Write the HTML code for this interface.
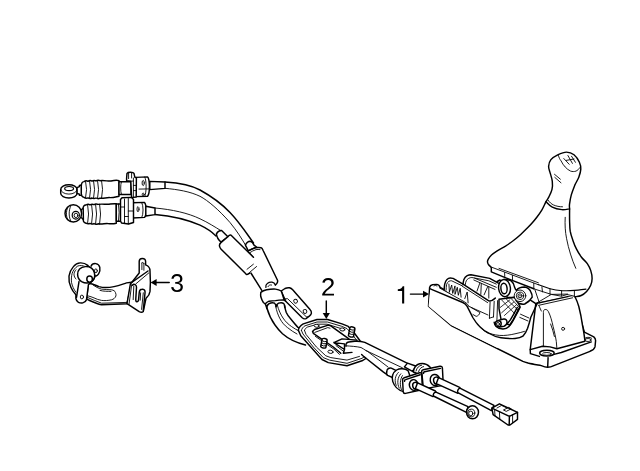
<!DOCTYPE html>
<html>
<head>
<meta charset="utf-8">
<title>Shifter &amp; cables diagram</title>
<style>
html,body{margin:0;padding:0;background:#fff;}
body{width:640px;height:471px;overflow:hidden;font-family:"Liberation Sans",sans-serif;}
svg{display:block;position:absolute;left:0;top:0;}
.m{fill:none;stroke:#000;stroke-width:1.45;stroke-linecap:round;stroke-linejoin:round;}
.w{fill:#fff;stroke:#000;stroke-width:1.45;stroke-linecap:round;stroke-linejoin:round;}
.t{fill:none;stroke:#000;stroke-width:0.9;stroke-linecap:round;stroke-linejoin:round;}
.tw{fill:#fff;stroke:#000;stroke-width:0.9;stroke-linecap:round;stroke-linejoin:round;}
.k{fill:#000;stroke:none;}
text{font-family:"Liberation Sans",sans-serif;font-size:22px;fill:#000;}
</style>
</head>
<body>
<svg width="640" height="471" viewBox="0 0 640 471">
<rect x="0" y="0" width="640" height="471" fill="#fff"/>

<!-- ===== LABELS ===== -->
<g id="labels">
<path class="k" d="M404.2 286.2V303.6H402.1V290.9H397.8V289.3C400.4 289.2 402 288 402.7 286.2Z"/>
<path class="m" d="M410.4 294.1H424"/>
<path class="k" d="M429 294.1L423 290.7V297.5Z"/>
<path class="k" transform="translate(320.897 295.6) scale(0.012647 -0.012238)" d="M103 0V127Q154 244 227.5 333.5Q301 423 382.0 495.5Q463 568 542.5 630.0Q622 692 686.0 754.0Q750 816 789.5 884.0Q829 952 829 1038Q829 1154 761.0 1218.0Q693 1282 572 1282Q457 1282 382.5 1219.5Q308 1157 295 1044L111 1061Q131 1230 254.5 1330.0Q378 1430 572 1430Q785 1430 899.5 1329.5Q1014 1229 1014 1044Q1014 962 976.5 881.0Q939 800 865.0 719.0Q791 638 582 468Q467 374 399.0 298.5Q331 223 301 153H1036V0Z"/>
<path class="m" d="M326.3 301V314"/>
<path class="k" d="M326.3 319L322.7 313H329.9Z"/>
<path class="k" transform="translate(170.152 291.753) scale(0.012152 -0.012345)" d="M1049 389Q1049 194 925.0 87.0Q801 -20 571 -20Q357 -20 229.5 76.5Q102 173 78 362L264 379Q300 129 571 129Q707 129 784.5 196.0Q862 263 862 395Q862 510 773.5 574.5Q685 639 518 639H416V795H514Q662 795 743.5 859.5Q825 924 825 1038Q825 1151 758.5 1216.5Q692 1282 561 1282Q442 1282 368.5 1221.0Q295 1160 283 1049L102 1063Q122 1236 245.5 1333.0Q369 1430 563 1430Q775 1430 892.5 1331.5Q1010 1233 1010 1057Q1010 922 934.5 837.5Q859 753 715 723V719Q873 702 961.0 613.0Q1049 524 1049 389Z"/>
<path class="m" d="M169.2 282.5H156"/>
<path class="k" d="M150.6 282.5L156.6 279.1V285.9Z"/>
</g>

<!-- ===== CABLES ===== -->
<g id="cables">
<!-- upper cable run -->
<path class="m" d="M165 182C180 183 192 185.5 200 190C210 195.5 221 203 230 212.5C240 223 247 234 253.5 243"/>
<path class="t" d="M165 188.3C178 189.5 190 191.5 200 196.3C208 200.5 219 210 230 222.5C237 231 242 239 246.3 246.5"/>
<!-- lower cable run -->
<path class="t" d="M155 208C172 209.5 188 213 200 218.8C208 222.5 215 227 221.5 231"/>
<path class="m" d="M155 214.5C172 216 186 219 200 225.2C207 228.5 212 232 216 236"/>
<!-- upper end A -->
<path class="w" d="M60.7 189.4A8.2 4.7 0 0 1 77.1 189.4L77.1 193.2A8.2 4.7 0 0 1 60.7 193.2Z"/>
<path class="t" d="M60.7 189.4A8.2 4.7 0 0 0 77.1 189.4"/>
<ellipse class="w" cx="69.1" cy="188.6" rx="4.4" ry="2.1" style="stroke-width:1.2"/>
<path class="w" d="M77.1 187.6L79.4 186.6V185.4L81.6 185V195.4L79.4 195.2V194.2L77.1 193.4Z"/>
<path class="w" d="M81.3 186.2C81.3 183.5 82.3 181.8 84 181.6Q86 180.2 88 181.3Q90 180 92 181.1Q94 179.8 96 180.9Q98 179.6 100 180.7C105 180.2 108 181.4 111 181C114 180.3 117 180 119 180.6V196.2C116 196.8 113 197.8 110 197.6C106 197.4 104 198.6 100 198.2Q98 199.2 96 198Q94 199.2 92 198Q90 199 88 197.8Q86 198.7 84 197.4C82.3 197 81.3 195.5 81.3 193.8Z"/>
<path class="t" d="M85.6 181.5Q87.6 189.5 85.6 197.6M89.6 181.2Q91.6 189.5 89.6 197.8M93.6 181Q95.6 189.5 93.6 198M97.6 180.8Q99.6 189.5 97.6 198.1M101.6 180.7Q103.6 189.5 101.6 198.1"/>
<path class="w" d="M119 181.8H131V194.4H119Z"/>
<path class="t" d="M121.4 181.8C120.4 185 120.4 191 121.4 194.4"/>
<path class="w" d="M135.8 177.4L147.6 176.9C149.8 179 150.2 193 147.6 196.2L135.8 196.6Z"/>
<path class="t" d="M144.8 177C146.6 181 146.6 192 144.8 196.4M139 189.1L149.2 188.9"/>
<ellipse class="tw" cx="143.2" cy="183" rx="1.1" ry="2.6"/>
<ellipse class="tw" cx="143.2" cy="194.4" rx="1" ry="1.3"/>
<path class="w" d="M126.6 178.4L127 173.4C128 171.9 133.2 171.9 134 173.4L134.8 177.2L136.4 177.8L136.2 197L131.6 197.6L130.8 181.2L126.6 180.6Z"/>
<path class="t" d="M133.4 178V197.2M130.8 181.2L133.4 181M133.4 185.4H136.2M133.4 190.6H136.2M128.6 173V178.6M131.6 172.6V178"/>
<path class="w" d="M149.8 181.4L165 182V188.4L149.8 189.6Z"/>
<!-- lower end B -->
<ellipse class="w" cx="73.3" cy="213.4" rx="8.3" ry="8.6"/>
<path class="t" d="M67.8 207.6C65.8 211 65.8 217.4 68.4 220.6M70.6 206.4C68.6 210.4 68.6 217.6 71 221.4"/>
<ellipse class="w" cx="75.8" cy="215.2" rx="3.6" ry="3.9" style="stroke-width:1.2"/>
<ellipse class="tw" cx="76" cy="215.4" rx="1.9" ry="2.2"/>
<path class="m" d="M81.3 209.8L83.5 208M81.6 217.8L83.5 219.8"/>
<path class="w" d="M83.2 209C82.8 206.5 84 205 86 205Q88 203.8 90 204.8Q92 203.6 94 204.6Q96 203.4 98 204.4C102 203.6 106 204.6 109 204.2C112 203.8 114 203.4 116.3 203.8V223.2C114 223.8 111 224 108 223.6C105 223.3 102 224.4 98 223.8Q96 224.8 94 223.6Q92 224.6 90 223.4Q88 224.4 86 223.2C84 222.8 83 221.5 83.4 219.5Z"/>
<path class="t" d="M87.6 204.6Q89.6 214 87.6 223.6M91.6 204.4Q93.6 214 91.6 223.8M95.6 204.2Q97.6 214 95.6 224M99.6 204.2Q101.6 214 99.6 224"/>
<path class="w" d="M116.3 204H125V221.2H116.3Z"/>
<path class="t" d="M118.5 204Q119.8 212 118.5 221.2"/>
<path class="w" d="M132.5 202.8L144.5 202.4C146.5 204.5 147 215 144.5 217.4L132.5 218Z"/>
<path class="t" d="M141.8 202.6C143.5 206 143.5 214 141.8 217.5"/>
<ellipse class="tw" cx="138" cy="209.2" rx="1" ry="2.6"/>
<path class="w" d="M120.5 199.5L122 197.8L131.5 197.4L133.5 199.5V222.5L128.5 224L121.5 223L120.5 221Z"/>
<path class="t" d="M124.5 199V223.4M128.3 198.5V223.8M120.5 207H124.5M128.3 211H133.5M124.5 216.5H128.3"/>
<path class="w" d="M145.8 206.2L155 208V214.6L145.8 216Z"/>
<!-- collar + sleeve 1 (lower cable) -->
<path class="w" d="M216.4 233.8C217.6 231.6 219.6 230.4 221.6 230.5L227.9 236.8L221 242C218.6 240 216.8 237 216.4 233.8Z"/>
<path d="M231.1 235.2C229.8 234.8 228.8 235.6 227.9 236.8L220.9 242.6C219.6 243.8 219.2 245.2 219.6 246.4C219.8 247.4 220.2 248.2 220.9 248.9L245.8 273.8C246.2 274.4 246.6 274.6 247 274.4C248 274.4 248.8 273.8 249.6 273.1L256.6 266.5L258 262Z" fill="#fff" stroke="none"/>
<path class="m" d="M253.4 257.2L231.1 235.2C229.8 234.8 228.8 235.6 227.9 236.8L220.9 242.6C219.6 243.8 219.2 245.2 219.6 246.4C219.8 247.4 220.2 248.2 220.9 248.9L245.8 273.8C246.2 274.4 246.6 274.6 247 274.4C248 274.4 248.8 273.8 249.6 273.1"/>
<path class="t" d="M247 269.3L253.4 264.2M249.6 272.4L256.6 266.5"/>
<!-- collar + sleeve 2 (upper cable) -->
<path class="w" d="M245.4 245.1C246.4 242.8 248.2 241.4 250.2 241.3C252 241.6 253.2 243.2 254 245.1L256.6 247L248.3 250.8Z"/>
<path class="m" d="M248.3 250.8C250.4 249.4 252.8 248.4 255.3 247.7C257.2 247.4 259.2 247.4 261 247.7C262 248.2 262.6 249.2 263 250.2L277.5 280.2C277.9 281.6 277.5 282.8 276.6 283.8L275.4 284.9"/>
<path class="t" d="M249.6 252.8C251.6 251.4 253.8 250.4 256 249.6C257.4 249.4 258.8 249.4 260 249.6M249.6 252.8L253.4 257.2"/>
<path class="m" d="M250.9 273L261.8 290.4"/>
<path class="m" style="stroke-width:1.3" d="M265.9 287.4C265.6 285.8 266 284.4 267.3 283.5C268.8 282.4 270.4 282 272 282.2C273.6 282.6 274.8 283.6 275.4 284.9"/>
<path class="t" d="M268 286.6C268.6 285.2 270 284.6 271.6 285"/>
</g>

<!-- ===== BRACKET 3 ===== -->
<g id="bracket3">
<!-- arm -->
<path class="w" d="M88.4 283.5C92 283 96 285.6 99 286.6C104 288 110 287.4 114 286.6C119 285.6 123 284 126.5 282.9L131.6 282.3L127 303.8L101.5 304.8C96 303.4 91 301 86.6 299.2Z"/>
<path class="t" d="M87.4 297.4C92 299.4 97 301.6 101.6 303.2L127.4 302.4"/>
<path class="t" d="M92.8 284.8C95.6 286.8 98.6 288.4 101.5 289.1C105 289.8 108.6 289.4 111.5 289.8C113.6 290.2 115 291 115.4 292.4C116 293.8 116.2 295 115.9 296C115.2 298 113.6 299.2 111.5 299.8C108 300.6 104.6 300.8 101.5 300.4C98.8 300 96.4 299 94 297.9C92 297 90 296.4 88.4 296"/>
<path class="t" d="M100 290.4C103.6 291.6 108 291.2 111 291.4"/>
<!-- right plate -->
<path class="w" d="M139.2 273L139.2 261.5C139.2 259.6 140.4 258.4 142.3 258.4C144.3 258.4 145.6 259.6 145.6 261.5V264.9C147 265.4 148 266 148.7 266.9C149.6 268 150 269.4 150 271L150.4 282.5L150 291.4C149.6 294.2 148.2 296.4 146.6 297.6L146 298.4L143.3 311.4C142.4 312.4 140.6 312.4 139.2 311.7L127 303.6L130.4 283.9L131.7 282.5Z"/>
<path class="t" d="M141.9 262.9V269.6M143.9 263.5V270.3M141.9 262.9C142.4 262 143.5 262.3 143.9 263.5"/>
<path class="m" d="M131.7 282.5L148 271"/>
<path class="t" d="M135.8 283.9L148.7 273M131.7 284.6L129 304.4"/>
<path class="m" d="M132.4 285.3C133.2 284.2 134.4 284.2 135.1 284.6C136.2 285.2 136.6 286.2 136.5 287.3L135.8 298.8C135.6 300.6 136 301.6 136.9 301.7C137.8 301.8 138.4 301 138.5 300.2L139.2 292.7C139.4 290.6 140.4 289.3 141.9 289.3C143.6 289.2 144.8 290 145 291.4C145.2 292.6 145 293.8 144.8 295L143.3 310.2"/>
<path class="t" d="M133.8 286L133.2 299.6M140.6 292.8L140.2 300.2M143.3 292.8L141.6 309.4"/>
<!-- left mount -->
<path class="w" d="M87.8 265.4C85.6 263.6 82.8 262.8 80.3 262.9C77.6 263 75.2 264.4 73.4 266.6C71 269.4 69.4 272.6 69 276C68.6 280 69.4 284 70.9 287.3C72 290 73.8 292.6 75.9 294.8V298.5C76.2 300.2 77 301.6 78.4 302.3C79.8 303 81.4 303.2 82.8 302.9C84.6 302.4 86 301.4 86.5 299.8L88.4 284.8L94 279L96 274Z"/>
<path class="t" d="M85.3 266.6C82.8 265.4 80.2 265.2 77.8 266C75.2 267.6 73 270.4 72.1 273.5C71.4 276.4 71.2 279.4 71.5 282.3C72.2 286 73.8 289.4 75.9 292.3"/>
<path class="t" d="M75.9 269.8C74.6 271.2 74 273 74 274.8C74.2 276.4 74.8 277.8 75.9 279"/>
<path class="w" d="M91 266.2C91.8 264.2 93.8 263.4 95.8 263.6C98 264 99.4 265.4 99.8 267.4C100.2 269.6 99.8 272 98.6 273.8C97.8 275 97 275.6 96 276"/>
<ellipse class="tw" cx="95.9" cy="270.8" rx="1.4" ry="1.9"/>
<path class="w" d="M77.6 274.6C77.4 270.4 80.4 266.8 85.4 266.6C90 266.4 93.4 269 94.4 272.8C95.2 276.4 94 279.8 91.2 281.8C88.4 283.4 84.6 283.2 81.6 281.6C79.2 280.2 77.8 277.6 77.6 274.6Z"/>
<ellipse class="w" cx="89.6" cy="279.1" rx="2.8" ry="3.1"/>
<path class="m" d="M79 281.6L76.5 297.3"/>
<ellipse class="tw" cx="81.9" cy="297" rx="1.6" ry="1.9"/>
</g>

<!-- ===== PLATE 2 ===== -->
<g id="plate">
<!-- tubes from clamp down to plate -->
<path class="m" d="M266.9 308C268.6 314 271.4 320 275 325C277.4 328.4 280 331.4 282.5 333.8C288 338.6 297 343 305.5 345"/>
<path class="t" d="M275.6 306C276.6 311 278 315 280 318.8C282 322.6 284.6 325.4 287.5 327.6C290.4 330 294 332.4 297 334"/>
<path class="t" d="M277.4 305.4C278.6 310 280.6 314.4 283 318C285.4 321.6 288.6 324.6 291.6 326.6C294 328.4 297 330 299 331"/>
<path class="m" d="M284.4 305.6C285 308 285.6 310.4 286.3 312.5C287.4 315 289 317 290.6 318.8C293 321.8 295.6 325 298 327.4L300.6 328.6"/>
<!-- tab -->
<path class="w" d="M281.2 291L285 288.5C286.6 287.8 288 287.6 289.5 287.8C290.8 288.2 291.8 288.8 292.7 289.7L310 309.5C311.2 310.8 311.6 312 311.4 313.2C311 314.4 310.4 315.2 309.6 315.8L306 318.6C304.6 319.2 303.4 318.8 302.2 317.8L285.7 301.2Z"/>
<path class="t" d="M284.6 298.9L287.6 298.7L306 316.5C306.8 317 307.8 317 308.8 316.4"/>
<ellipse class="tw" cx="295.6" cy="301.2" rx="1.8" ry="2" transform="rotate(-30 295.6 301.2)"/>
<ellipse class="tw" cx="305" cy="311.4" rx="1.8" ry="2" transform="rotate(-30 305 311.4)"/>
<!-- clamp -->
<path class="w" d="M260.8 292.3C262.6 291 264.6 290.2 266.6 289.7C269.6 289.2 272.6 289 275.5 289.1C277.6 289.4 279.6 290 281.2 291C282.2 293.6 283 296.2 283.8 298.7C284.6 299.4 285.2 300.2 285.7 301.2C284.8 300.6 284 300.2 283.1 299.9C280.6 300 278 300.2 275.5 300.6C273.4 300.6 271.2 300.8 269.1 301.2C267.6 301.8 266.4 302.6 265.3 303.8C264.6 303.4 264 303 263.4 302.5C262.2 300.8 261.4 298.8 260.8 296.8C260.6 295.2 260.6 293.8 260.8 292.3Z"/>
<path class="m" d="M265.3 303.8L266.9 308.6M266.9 308.6C266.6 306 267.4 304.6 269.1 303.6C271 302.6 273 302.4 274.6 303.2C275.6 304 276 305.4 276.1 306.8C276.4 305 277.2 303.8 278.6 303.2C280.6 302.4 282.6 302.6 283.8 303.6C284.6 304.6 285 306 285 307.4"/>
<!-- plate outline -->
<path class="w" d="M298.3 330.1C298.6 328 300.6 325.6 303.3 323.9L317 319.5H327.6L342 323.9L348.3 326.4L354.5 333.3L360 340.8L368.3 357L362 360.8L347 365.8L328.3 362.6L322 359.5L310.8 347L300.8 335.8Z"/>
<path class="t" d="M301.4 330.4C301.8 328.6 303 327 305 325.8L317 322H327.4L341.4 326.2L347 328.6L352.6 334.8L357.6 341.6M364.6 356.6L362 358.3L347 363.3L329.5 360.1L323.3 357.6L313.3 347L303 334L301.4 330.4"/>
<path class="t" d="M304.5 330.4C305 328.8 306 327.8 307.6 327L317.6 324.2H327L340.6 328.4M359.5 356.4L347 360.1L330.8 357.6L325.8 355.8L316.4 347L306 334.4L304.5 330.4"/>
<path class="m" d="M312.6 331.4L314.5 329.5L328.3 325.1L330.8 325.8L348.9 338.9"/>
<path class="m" d="M312.6 331.4L313.3 333.3L333.3 347L340.8 353.3"/>
<path class="t" d="M314.8 332.4L327.8 327.6L330 328.2M315.4 336.4L334 349.2L339.4 354.4"/>
<path class="m" d="M333.9 342.6L342 338.9L357 340.1M333.9 342.6L344.5 349.5L343.3 353.3L352 352.4M344.5 343.9V349.5M333.9 342.6L344.5 343.9"/>
<path class="t" d="M336 345.6L343.6 351.4"/>
<ellipse class="tw" cx="316.6" cy="325.8" rx="2.5" ry="1.5" transform="rotate(8 316.6 325.8)"/>
<ellipse class="tw" cx="342.3" cy="329.5" rx="2.5" ry="1.5" transform="rotate(8 342.3 329.5)"/>
<ellipse class="tw" cx="330.5" cy="351.8" rx="2.6" ry="1.6" transform="rotate(8 330.5 351.8)"/>
<!-- studs -->
<g transform="rotate(10 350.8 336)">
<path class="w" d="M348.4 336V328.4C348.4 326.2 353.6 326.2 353.6 328.4V336.2C352.4 337.4 349.4 337.2 348.4 336Z"/>
<path class="t" d="M348.4 329.4Q351 330.6 353.6 329.4M348.4 331.6Q351 332.8 353.6 331.6M348.4 333.8Q351 335 353.6 333.8"/>
</g>
<g transform="rotate(10 323.3 347)">
<path class="w" d="M320.7 347V340C320.7 337.8 325.9 337.8 325.9 340V347.2C324.7 348.4 321.7 348.2 320.7 347Z"/>
<path class="t" d="M320.7 341Q323.3 342.2 325.9 341M320.7 343.2Q323.3 344.4 325.9 343.2M320.7 345.4Q323.3 346.6 325.9 345.4"/>
</g>
<!-- cables leaving plate to the right -->
<path d="M346 345.6C346 343.6 347 342.4 348.8 342L354.8 341.3L364.8 341.9L373.5 346.3L407.6 363.4L404 367.6L388 367.6L387.4 375L366 358.2L361 351L358 347.4Z" fill="#fff" stroke="none"/>
<path class="m" d="M346 346.2C345.6 344 346.8 342.4 348.8 342L354.8 341.3C358 341.1 361.6 341.4 364.8 342.4L406.6 362.9"/>
<path class="t" d="M346 345.8C351 346.2 356 346.4 361 347.5C362.8 348.4 364.4 349.6 366 350.6L402.4 367.8"/>
<path class="t" d="M366 350.6L367.3 351.2L388 367"/>
<path class="m" d="M361.6 354.4C363 355.8 364.4 357 366 358.2L383.2 371.9L387.4 375"/>
<!-- collars -->
<path class="w" d="M404.4 366.9L407.5 363.1L416.3 366.3L412.5 371.3Z"/>
<path class="w" d="M386.9 371.3C386.6 369.6 388.6 367.6 391.3 368.1L396.3 370.6L392.5 377.5L387.6 375.4C386.4 374.4 386.4 372.6 386.9 371.3Z"/>
<!-- grommet 2 (far) -->
<path class="w" d="M413.2 372C414 367.6 416.4 364.6 419.6 363.8C423 363 427 364 430 366.9L432 372L424 376Z"/>
<path class="t" d="M416 371C416.8 367.6 419 365.6 421.6 365.2M418.6 371.6C419.4 368.6 421.4 367 423.6 366.6"/>
<path class="w" d="M421.8 372.2C421.4 370.8 422 370 423.2 369.8L440 366.2C441.4 366 442.2 366.6 442.4 368L443.2 383.4C443.2 384.6 442.6 385.4 441.4 385.6L425.6 388.6C424.2 388.8 423.4 388.2 423.2 386.8Z"/>
<path class="m" d="M423.6 373.4C423.4 372.6 423.8 372 424.6 371.8L440.6 368.4"/>
<ellipse class="w" cx="435" cy="380" rx="4.8" ry="5.6" transform="rotate(-10 435 380)"/>
<ellipse class="w" cx="436.6" cy="380.6" rx="3" ry="3.5" transform="rotate(-10 436.6 380.6)"/>
<!-- rod 2 -->
<path class="w" d="M436.3 383.6L438.6 377.6L459.6 387.4C461 388.4 460.6 392.4 457.4 393.2Z"/>
<path class="w" d="M457.8 392.6C457 390.8 458.6 388 460.4 388.4L494 405.4L491.4 410.6Z"/>
<!-- grommet 1 (near) -->
<path class="w" d="M403.6 391.6C399 390.4 394.4 386.6 392.8 381.6C391.6 377 393 372.4 396.6 370C400 368 405 368.6 408 370.6L410 376L404 380Z"/>
<path class="t" d="M396.2 385.4C394.2 381 395 375.6 398.4 372.4M399.2 388C396.8 383.4 397.4 377.4 400.8 373.8M401.4 389.6C399.6 385 400 379.4 402.4 375.6"/>
<path class="w" d="M402.6 380.2C402.4 379 403 378.2 404.2 377.8L419.6 372.8C420.8 372.4 421.4 373 421.6 374.2L422.4 387.6C422.4 388.8 421.8 389.6 420.6 390L405.6 393.4C404.2 393.6 403.4 393 403.2 391.8Z"/>
<path class="m" d="M404.6 381.2C404.4 380.4 404.8 379.8 405.6 379.6L420.2 374.8"/>
<ellipse class="w" cx="413.8" cy="385" rx="4.4" ry="5.4" transform="rotate(-10 413.8 385)"/>
<ellipse class="w" cx="415.4" cy="385.6" rx="2.7" ry="3.3" transform="rotate(-10 415.4 385.6)"/>
<!-- rod 1 -->
<path class="w" d="M415.4 388.6L417.6 382.8L435.4 391C436.8 392 436.2 395.6 433 396.6Z"/>
<path class="w" d="M433.4 396C432.8 394.4 434.2 391.8 436 392.2L468 406.6L466.4 412.4Z"/>
<!-- eyelet -->
<ellipse class="w" cx="472.5" cy="412.3" rx="6" ry="6.5"/>
<ellipse class="tw" cx="471.2" cy="413" rx="3.6" ry="3.9"/>
<ellipse class="tw" cx="470.8" cy="413.4" rx="2.1" ry="2.3"/>
<!-- end block -->
<path class="w" d="M491.9 408.1L499.4 403.8L517.5 412.3V419.4L510 425L508 425L493.1 414.6Z"/>
<path class="m" d="M491.9 408.1L509.4 416.3L517.5 412.3M509.4 416.3L509.2 424.8"/>
<path class="t" d="M494.6 409.4L495 415.8M499.4 411.6L499.8 419.2M512.6 414.6V422.6M497 408L501.6 405.4L507 408M503.8 409.8L508.6 407.4L511.2 408.8L506.6 411.2Z"/>
</g>

<!-- ===== SHIFTER 1 ===== -->
<g id="shifter">
<!-- base outline -->
<path class="w" d="M429.6 287.5C430 285.6 431 285 432.4 284.8L436.5 284.4C438.4 284.6 439.6 285.6 440.2 287.4L462.8 300L500 280L535.8 303.6L574 296L584.4 332.1L593.8 336.9C595 338 595.6 339.2 595.6 340.6L595 346.9C594.4 349 592.6 350.4 590 351.3L553.8 365.6C551.6 366.8 549.4 367.3 547.5 367.3C545.4 367.1 543.4 366.4 541.3 365.6C537 364.8 532 364 528 363C526 362.4 524.4 361.9 522.9 361.3L451.6 325.8C451 325.5 450.6 325.2 450.2 324.8L428.5 306.2Z"/>
<!-- tower -->
<path class="w" d="M535.8 303.6L572.2 295.6C573.4 295.4 574.2 295.8 575 296.8C576.6 300 577.8 303.2 578.8 306.5C580.4 312.6 581.6 319 582.5 325.3C583.6 330.6 584.4 336 585 341.2L556.9 348.8L550 346.9L542.5 346.3L530.2 349.6Z"/>
<path class="t" d="M538.8 305.3L572.6 297.8M538.8 305.3L541.3 311"/>
<path class="t" d="M543.4 346.4V312.6C543.2 310.6 544 309.6 545.2 309.5C546.6 309.4 547.6 310 548.4 311.6C550.6 316 552 321.4 553.1 326.5C554.6 332 555.6 337 556.3 341.5L556.9 348.6M550.6 324C552.2 328 553.4 332 554.4 336.5"/>
<circle class="tw" cx="563.1" cy="328.8" r="1.5"/>
<!-- arches / back walls -->
<path d="M444.2 289.7C444.2 287.6 444.4 285.8 444.7 284.1C445.2 282 446 280.4 447 279.4C448 278.4 449.2 278 450.3 278C451.4 278 452.2 278.2 453.1 278.4L463 284.1C463.2 282.4 463.4 280.8 463.9 279.4C464.6 277.6 465.8 276.4 467.2 275.6C468.4 275 469.6 274.7 470.9 274.7L489.7 278.4L499.6 283L506 292L500 300L488 312L470 316L462.8 302.5Z" fill="#fff" stroke="none"/>
<path class="m" d="M444.2 289.7C444.2 287.6 444.4 285.8 444.7 284.1C445.2 282 446 280.4 447 279.4C448 278.4 449.2 278 450.3 278C451.4 278 452.2 278.2 453.1 278.4L463 284.1C463.2 282.4 463.4 280.8 463.9 279.4C464.6 277.6 465.8 276.4 467.2 275.6C468.4 275 469.6 274.7 470.9 274.7L489.7 278.4L498.4 283.2"/>
<path class="t" d="M446.1 290.2C446.1 288.2 446.3 286.2 446.6 284.5C447 283 447.8 282 448.9 281.3C449.8 280.8 450.8 280.7 451.7 280.8L462.5 286M465.3 284.5C465.4 283.2 465.7 282 466.3 280.8C466.8 279.8 467.6 279 468.6 278.4C469.6 277.8 470.8 277.5 471.9 277.5L488.8 280.8L496.3 284.1"/>
<path class="m" d="M463 284.1L488.8 300.9C490.6 301.4 493.2 300 495.3 298.1"/>
<path class="t" d="M462.5 286.4L487.6 302.6M474.7 278.2L496.3 287.3M473.8 280L495 289.4"/>
<path class="t" d="M448.9 284.1L449.4 292M449.4 292L451.7 285L452.7 293.4L455 285.9V294.4L457.3 287.3L458.3 295.3L460.2 288.3L461.1 297.2"/>
<path class="t" d="M464.8 298.6L467.2 292L468.1 302.8"/>
<path class="t" d="M479.8 283.1L477 291.1M481.3 283.6L480.8 294.4M487.8 286.4L484.1 294.8M488.8 286.9V298.1"/>
<path class="t" d="M468.6 306.2L488 315M471.1 307.5L480 312.6C479.4 314.6 478 316 476.2 316.4L473 314.5"/>
<!-- front wall top edge + bowl curve -->
<path d="M430.3 288.8L462.8 302.5C465 303.4 466 304.6 467 306.2C469 310 471 314 472.8 317.5C476 323 481 329 488.3 333C493 335.8 497 337.2 501 337.7L497.5 348L451 325L428.5 306.2Z" fill="#fff" stroke="none"/>
<path class="m" d="M430.3 288.8L462.8 302.5C465 303.4 466 304.6 467 306.2C469 310 471 314 472.8 317.5C476 323 481 329 488.3 333C493 335.8 497 337.2 501 337.7C506 338.4 511 338.8 515 338.5C518.6 338.2 521 337.6 522.9 336.2C525 334 526.6 331 527.6 328.3C529 324 530 320.6 530.8 317.3L537 304"/>
<path class="t" d="M439.6 288L464.6 301.9C466.6 303 467.6 304.2 468.6 306M477.3 324.4C480 327.4 482.6 329.8 485.2 331.4C489.6 333.8 494.6 335 499.3 335.4C504.6 335.8 510 335 515 333.8C518.6 333 522 332.2 524.5 331.4"/>
<path class="t" d="M434 286C434.6 285.2 436.2 285.2 437 286.2"/>
<!-- lattice + link -->
<path class="w" d="M499 299.2L515.2 297.2L520 306.7L513.2 319.6L509.8 325L501.6 322.3L499 308.7Z"/>
<path class="t" style="stroke-width:0.8" d="M501.6 299.9L515.2 314.2M506.4 299.2L518 310M511.2 298.6L519.3 307.4M501.6 312.8L513.9 301.9M504.4 315.5L516.6 304.6M500.3 307.4L509.8 299.9"/>
<path class="m" d="M520 307.4C518 311.6 515.6 316 513.2 320.3C512 322.6 510.6 324.8 509 326.4C507.4 328 505.2 329 503 329C500.4 328.8 497.8 328 496.2 326.4C495 325.2 494.4 323.8 494.2 322.3"/>
<path class="m" d="M517.3 307.4C515.2 311.6 512.8 316 510.5 319.6C509.4 321.2 508.2 322.6 507 323.6"/>
<path class="w" d="M498.3 320.4L503.8 319C505.8 318.8 507 320.4 507 322.2C506.8 324.4 505.6 325.8 504 326.2L499.6 327Z"/>
<circle class="w" cx="498.3" cy="323.7" r="2.9"/>
<circle class="tw" cx="498" cy="324" r="1.5"/>
<path class="t" d="M520.5 314.2L529 318M519.8 317.4L528 321"/>
<!-- posts -->
<path class="t" d="M490.1 302L489.4 318.2M494.2 301.3L493.5 316.9M497.6 300.6L496.9 321M489.4 318.2L493.5 316.9"/>
<!-- link plate with two bosses -->
<path class="w" d="M504.4 279.5C507 279.6 510 280.2 511.2 280.9C513 282.4 514.2 284.6 514.5 287C515 288.6 515.8 290 516.6 290.4C517.6 288.6 520.4 287 524.7 287C527.6 287.6 529.8 289.4 530.8 291.8C531.8 293.4 532.2 295.4 532.2 297.2C530.6 300 527.6 302.6 524.7 304C522.6 304.4 520.4 304 518.6 303.3C516.6 301.6 515.2 299.4 514.5 297C511.8 297.6 508.4 297.6 507 297.2Z"/>
<ellipse class="w" cx="504.5" cy="288.1" rx="5.9" ry="8.6" transform="rotate(-6 504.5 288.1)"/>
<ellipse class="w" cx="504" cy="288.5" rx="3.1" ry="5.3" transform="rotate(-6 504 288.5)"/>
<circle class="tw" cx="520" cy="295.8" r="5.8"/>
<circle class="tw" cx="520" cy="295.8" r="3.7"/>
<circle class="tw" cx="520" cy="295.8" r="2"/>
<circle class="k" cx="520" cy="295.8" r="0.7"/>
<!-- boot fill -->
<path d="M546.0 201.6C545.7 202.2 545.1 203.6 544.4 205.0C543.7 206.4 543.0 208.2 541.8 210.1C540.6 212.0 539.0 214.4 537.4 216.5C535.8 218.6 533.9 221.0 532.3 222.8C530.7 224.7 529.7 225.7 527.8 227.6C525.9 229.5 523.3 232.1 521.0 234.2C518.7 236.3 516.3 238.3 513.8 240.3C511.2 242.3 508.3 244.3 505.5 246.1C502.7 247.8 499.5 249.3 497.2 250.8C494.9 252.3 493.0 253.6 491.5 255.0C490.0 256.4 489.0 257.9 488.3 259.1C487.6 260.3 487.4 261.1 487.5 262.0C487.6 262.9 488.1 264.0 488.6 264.8C489.2 265.6 490.4 266.5 490.8 266.9L538 284.6L551.3 294.4L575.1 296.8C576.1 296.6 579.3 296.4 581.2 295.5C583.1 294.6 585.0 293.1 586.6 291.4C588.2 289.7 589.8 287.4 590.7 285.3C591.6 283.2 592.1 281.0 592.1 278.5C592.1 276.0 591.5 272.9 590.7 270.4C589.9 267.9 588.8 265.8 587.3 263.6C585.8 261.4 583.3 259.6 581.5 257.2C579.7 254.8 577.8 251.7 576.4 248.9C575.0 246.2 574.0 243.6 573.0 240.7C572.0 237.8 570.8 234.6 570.2 231.2C569.7 227.8 569.7 224.1 569.6 220.4C569.5 216.7 569.6 210.8 569.6 208.9Z" fill="#fff" stroke="none"/>
<!-- frame rail under boot -->
<path d="M488.8 265L491 271.6L504.6 277.4L533.8 288.8L551.3 294.4L567.5 295L575 296.3L585 292.5L586.3 289.4L570 291.3L551.3 289.4L533.8 283.1L520 276.9L491 266.6Z" fill="#fff" stroke="none"/>
<path class="m" d="M491.3 267.6L491.3 271.8L504.6 277.4L533.8 288.8"/>
<path class="t" d="M533.8 288.8L551.3 294.4L561.5 296.2L567 294.5L574.4 296.2"/>
<path class="t" d="M533.8 283.1V288.8M541.9 286.9L542.5 291.9M550 288.8V294.2M561.6 290.8V296M574.4 290.6V296.4M504.6 272.6L504.8 277.4M512.4 275.4L512.6 280.4"/>
<path class="t" d="M535.8 303.6L551.3 294.4L567.6 294.1M535 290L539.4 303"/>
<!-- boot -->
<path class="m" d="M546.0 201.6C545.7 202.2 545.1 203.6 544.4 205.0C543.7 206.4 543.0 208.2 541.8 210.1C540.6 212.0 539.0 214.4 537.4 216.5C535.8 218.6 533.9 221.0 532.3 222.8C530.7 224.7 529.7 225.7 527.8 227.6C525.9 229.5 523.3 232.1 521.0 234.2C518.7 236.3 516.3 238.3 513.8 240.3C511.2 242.3 508.3 244.3 505.5 246.1C502.7 247.8 499.5 249.3 497.2 250.8C494.9 252.3 493.0 253.6 491.5 255.0C490.0 256.4 489.0 257.9 488.3 259.1C487.6 260.3 487.4 261.1 487.5 262.0C487.6 262.9 488.1 264.0 488.6 264.8C489.2 265.6 490.4 266.5 490.8 266.9"/>
<path class="m" d="M569.6 208.9C569.6 210.8 569.5 216.7 569.6 220.4C569.7 224.1 569.7 227.8 570.2 231.2C570.8 234.6 572.0 237.8 573.0 240.7C574.0 243.6 575.0 246.2 576.4 248.9C577.8 251.7 579.7 254.8 581.5 257.2C583.3 259.6 585.8 261.4 587.3 263.6C588.8 265.8 589.9 267.9 590.7 270.4C591.5 272.9 592.1 276.0 592.1 278.5C592.1 281.0 591.6 283.2 590.7 285.3C589.8 287.4 588.2 289.7 586.6 291.4C585.0 293.1 583.1 294.6 581.2 295.5C579.3 296.4 576.1 296.6 575.1 296.8"/>
<path class="t" d="M490.8 266.9L538 284.6"/>
<path class="t" style="stroke-width:1.1" d="M538 284.6C542 286 546 287.6 550 288.7C554 289.8 558 290.4 562.2 290.7C566.4 290.9 570.4 290.8 574.4 290.4C578.4 290 582.4 289.6 586 289.1"/>
<path class="t" d="M565.2 217.3C564.8 224.6 565.2 232 566.6 238.7C568.6 249 571.8 259.4 575.8 268.3"/>
<path class="t" d="M499 268.4L538.4 282.8"/>
<!-- knob -->
<path class="w" d="M546.0 201.6C546.5 200.8 547.9 198.9 548.9 196.9C549.9 194.9 551.4 192.0 552.0 189.4C552.6 186.8 552.6 184.0 552.3 181.3C552.0 178.6 550.9 175.6 550.2 173.1C549.6 170.6 548.5 168.7 548.6 166.4C548.7 164.2 549.4 161.5 550.9 159.6C552.4 157.7 555.1 156.1 557.7 154.8C560.3 153.6 563.8 152.1 566.5 152.1C569.2 152.1 571.9 153.1 574.0 154.8C576.1 156.5 578.3 159.9 579.4 162.3C580.5 164.7 580.9 166.6 580.8 169.1C580.7 171.6 579.8 174.5 578.8 177.2C577.8 179.9 576.0 182.4 574.7 185.4C573.5 188.4 572.2 191.7 571.3 194.9C570.4 198.1 569.8 202.1 569.5 204.4C569.2 206.7 569.6 208.2 569.6 208.9C568.3 209.0 564.7 209.9 561.8 209.6C558.9 209.3 554.9 208.4 552.3 207.1C549.7 205.8 547.0 202.5 546.0 201.6Z"/>
<path class="t" d="M548.2 200.3C549.6 202.4 551.4 204 553.6 205C556.4 206.2 559.4 206.8 562.5 206.8"/>
<path class="t" d="M558.4 155.5C559 157.6 559.8 159.4 561.1 160.9C562.2 163.2 563.6 165.4 565.2 167C566.8 168.8 568.6 170.2 570.6 171.1C572.4 171.7 574.2 171.7 576 171.1C577.6 170.4 578.8 169.2 579.7 167.7"/>
<path class="t" d="M563.8 158.5L569.2 164.3M567.9 155.5L572.4 163.4M571.5 156.2L575.4 162.3M566.2 160.4L574 159"/>
<path class="t" d="M554.5 174.3L560.4 179.2M554.8 177.4L561 182.8"/>
<!-- base top plate edge right -->
<path class="m" d="M530.2 349.6L530.4 353.6L539.4 356.4M553 354.6L561.3 352.5L591.3 341.9M548.1 357.6L547.7 366.6"/>
<ellipse class="w" cx="546.9" cy="353.1" rx="7.3" ry="2.9"/>
<ellipse class="tw" cx="546.9" cy="353.9" rx="4.4" ry="1.4"/>
<ellipse class="tw" cx="588.1" cy="340" rx="3" ry="1.5"/>
<path class="t" d="M584.8 338.4C586 337 589.6 336.8 591.6 338.2"/>
</g>

</svg>
</body>
</html>
